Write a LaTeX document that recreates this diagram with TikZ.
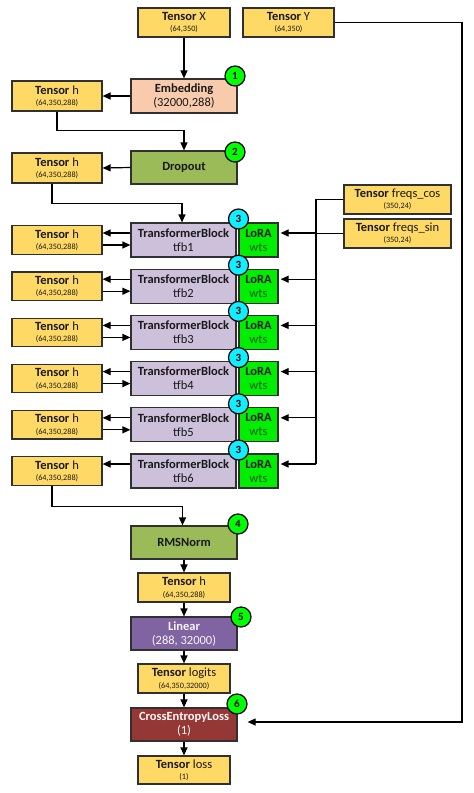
\documentclass[tikz,border=0pt]{standalone}
\usepackage{fontspec}
\setmainfont{Carlito}
\usetikzlibrary{arrows.meta,calc}
\definecolor{tens}{HTML}{FFD966}
\definecolor{embc}{HTML}{F8CBAD}
\definecolor{drpc}{HTML}{9BBB59}
\definecolor{tbc}{HTML}{CCC0DA}
\definecolor{lorac}{HTML}{00EE00}
\definecolor{grc}{HTML}{00FF00}
\definecolor{cyc}{HTML}{11EEFF}
\definecolor{linc}{HTML}{8064A2}
\definecolor{celc}{HTML}{953735}
\definecolor{bord}{HTML}{303030}
\newcommand\dimtxt[1]{{\fontsize{8.2}{8}\selectfont #1}}
\tikzset{
  base/.style={draw=bord, line width=1.2pt, align=center, inner sep=0pt,
    font=\fontsize{12.5}{14}\selectfont, text=black!90},
  tensor/.style={base, fill=tens, minimum width=91pt, minimum height=29pt,
    font=\fontsize{12.5}{11.5}\selectfont},
  opbox/.style={base, minimum width=106pt, minimum height=33pt},
  tbbox/.style={base, fill=tbc, minimum width=105pt, minimum height=34pt},
  lorabox/.style={base, fill=lorac, minimum width=39pt, minimum height=34pt},
  badge/.style={circle, draw=black, line width=1.2pt, minimum size=20pt, inner sep=0pt,
    font=\fontsize{11}{11}\selectfont\bfseries},
  arr/.style={line width=1.2pt, draw=black, -{Triangle[length=8pt,width=7pt]}},
  ln/.style={line width=1.2pt, draw=black},
}
\begin{document}
\begin{tikzpicture}[x=1pt,y=-1pt]
\useasboundingbox (0,0) rectangle (474,793);
% tensors at top
\node[tensor, minimum width=92pt] (tx) at (184,22.5) {\textbf{Tensor} X\\\dimtxt{(64,350)}};
\node[tensor] (ty) at (288.5,22.5) {\textbf{Tensor} Y\\\dimtxt{(64,350)}};
% embedding
\node[opbox, fill=embc, minimum height=34pt] (emb) at (184,96) {\textbf{Embedding}\\(32000,288)};
\node[tensor, minimum width=90pt, minimum height=30pt] (h1) at (57,96) {\textbf{Tensor} h\\\dimtxt{(64,350,288)}};
% dropout
\node[opbox, fill=drpc] (drop) at (184,167.5) {\textbf{Dropout}};
\node[tensor, minimum width=90pt, minimum height=30pt] (h2) at (57,168) {\textbf{Tensor} h\\\dimtxt{(64,350,288)}};
% freqs
\node[tensor, minimum width=107pt] (fcos) at (397.5,199.5) {\textbf{Tensor} freqs\_cos\\\dimtxt{(350,24)}};
\node[tensor, minimum width=107pt] (fsin) at (397.5,233.5) {\textbf{Tensor} freqs\_sin\\\dimtxt{(350,24)}};
% transformer blocks
\foreach \i/\y in {1/240,2/286.2,3/332.4,4/378.6,5/424.8,6/471}{
  \node[tbbox] (tb\i) at (183.5,\y) {\textbf{TransformerBlock}\\tfb\i};
  \node[lorabox] (lora\i) at (258.5,\y) {\textbf{LoRA}\\\textcolor{green!35!black}{wts}};
  \node[tensor, minimum width=90pt, minimum height=28.5pt] (th\i) at (57,\y) {\textbf{Tensor} h\\\dimtxt{(64,350,288)}};
}
% final column
\node[opbox, fill=drpc] (rms) at (184,542.5) {\textbf{RMSNorm}};
\node[tensor, minimum width=92pt] (hf) at (184,587.5) {\textbf{Tensor} h\\\dimtxt{(64,350,288)}};
\node[opbox, fill=linc, text=white!93!linc] (lin) at (184,633.5) {\textbf{Linear}\\(288, 32000)};
\node[tensor, minimum width=92pt] (logit) at (184,678.5) {\textbf{Tensor} logits\\\dimtxt{(64,350,32000)}};
\node[opbox, fill=celc, text=white!90!pink] (cel) at (184,724.5) {\textbf{CrossEntropyLoss}\\(1)};
\node[tensor, minimum width=92pt, minimum height=28pt] (loss) at (184,770) {\textbf{Tensor} loss\\\dimtxt{(1)}};
% connectors
\draw[arr] (tx.south) -- (emb.north);
\draw[arr] (emb.west) -- (h1.east);
\draw[arr] (h1.south) -- ++(0,19) -| (drop.north);
\draw[arr] (drop.west) -- (h2.east);
\coordinate (h2s) at ($(h2.south)+(-5,0)$);
\coordinate (tb1n) at ($(tb1.north)+(-1.5,0)$);
\draw[arr] (h2s) -- ++(0,20) -| (tb1n);
\foreach \i in {1,...,6}{
  \coordinate (tbo\i) at ($(tb\i.west)+(0,-7)$);
  \coordinate (tho\i) at ($(th\i.east)+(0,-7)$);
  \draw[arr] (tbo\i) -- (tho\i);
}
\foreach \i in {1,...,5}{
  \coordinate (thi\i) at ($(th\i.east)+(0,5)$);
  \coordinate (tbi\i) at ($(tb\i.west)+(0,5)$);
  \draw[arr] (thi\i) -- (tbi\i);
}
\coordinate (bus) at (316,0);
\foreach \i in {1,...,6}{
  \coordinate (la\i) at ($(lora\i.east)+(2,-7)$);
}
\draw[ln] (fcos.west) -- (fcos.west -| bus) -- (la6 -| bus);
\draw[ln] (fsin.west) -- (fsin.west -| bus);
\foreach \i in {1,...,6}{
  \draw[arr] (la\i -| bus) -- (la\i);
}
\coordinate (th6s) at ($(th6.south)+(-5,0)$);
\coordinate (rmsn) at ($(rms.north)+(-1.5,0)$);
\draw[arr] (th6s) -- ++(0,20.5) -| (rmsn);
\draw[arr] (rms.south) -- (hf.north);
\draw[arr] (hf.south) -- (lin.north);
\draw[arr] (lin.south) -- (logit.north);
\draw[arr] (logit.south) -- (cel.north);
\draw[arr] (cel.south) -- (loss.north);
\coordinate (yr) at (462,0);
\coordinate (celin) at ($(cel.east)+(0,-2.5)$);
\draw[arr, shorten >=10pt] (ty.east) -| (yr |- celin) -- (celin);
% badges
\node[badge, fill=grc] (b1) at (235,76) {1};
\node[badge, fill=grc] (b2) at (235,152) {2};
\foreach \i/\y in {1/219,2/265.2,3/311.4,4/357.6,5/403.8,6/450}{
  \node[badge, fill=cyc] (c\i) at (238.5,\y) {3};
}
\node[badge, fill=grc] (b4) at (238,524) {4};
\node[badge, fill=grc] (b5) at (241,617) {5};
\node[badge, fill=grc] (b6) at (237,704) {6};
\end{tikzpicture}
\end{document}
